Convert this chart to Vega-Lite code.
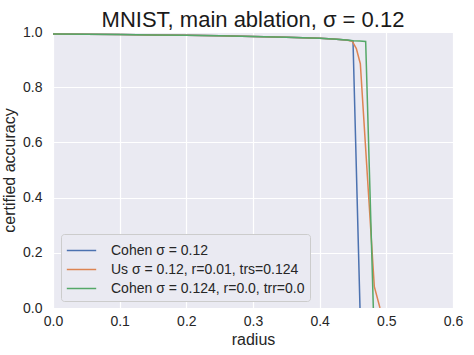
{
  "$schema": "https://vega.github.io/schema/vega-lite/v6.json",
  "width": 400,
  "height": 276,
  "autosize": {"type": "none"},
  "padding": {"left": 53, "top": 32, "right": 21, "bottom": 47},
  "background": "white",
  "title": {"text": "MNIST, main ablation, σ = 0.12", "font": "Liberation Sans", "fontSize": 22, "fontWeight": "normal", "color": "#1a1a1a", "offset": 0, "dy": 7},
  "config": {
    "view": {"fill": "#EAEAF2", "stroke": null},
    "axis": {"labelFont": "Liberation Sans", "titleFont": "Liberation Sans", "labelFontSize": 14, "titleFontSize": 16, "titleFontWeight": "normal", "labelColor": "#262626", "titleColor": "#262626", "domain": false, "ticks": false, "gridColor": "white", "gridWidth": 1.2, "gridOpacity": 1}
  },
  "data": {"values": [
    {"s": "Cohen σ = 0.12", "r": 0.0, "a": 0.993},
    {"s": "Cohen σ = 0.12", "r": 0.05, "a": 0.992},
    {"s": "Cohen σ = 0.12", "r": 0.1, "a": 0.991},
    {"s": "Cohen σ = 0.12", "r": 0.15, "a": 0.989},
    {"s": "Cohen σ = 0.12", "r": 0.2, "a": 0.988},
    {"s": "Cohen σ = 0.12", "r": 0.25, "a": 0.986},
    {"s": "Cohen σ = 0.12", "r": 0.3, "a": 0.984},
    {"s": "Cohen σ = 0.12", "r": 0.35, "a": 0.981},
    {"s": "Cohen σ = 0.12", "r": 0.4, "a": 0.977},
    {"s": "Cohen σ = 0.12", "r": 0.42, "a": 0.975},
    {"s": "Cohen σ = 0.12", "r": 0.44, "a": 0.971},
    {"s": "Cohen σ = 0.12", "r": 0.45, "a": 0.968},
    {"s": "Cohen σ = 0.12", "r": 0.4605, "a": 0.0},
    {"s": "Us σ = 0.12, r=0.01, trs=0.124", "r": 0.0, "a": 0.993},
    {"s": "Us σ = 0.12, r=0.01, trs=0.124", "r": 0.05, "a": 0.992},
    {"s": "Us σ = 0.12, r=0.01, trs=0.124", "r": 0.1, "a": 0.991},
    {"s": "Us σ = 0.12, r=0.01, trs=0.124", "r": 0.15, "a": 0.989},
    {"s": "Us σ = 0.12, r=0.01, trs=0.124", "r": 0.2, "a": 0.988},
    {"s": "Us σ = 0.12, r=0.01, trs=0.124", "r": 0.25, "a": 0.986},
    {"s": "Us σ = 0.12, r=0.01, trs=0.124", "r": 0.3, "a": 0.984},
    {"s": "Us σ = 0.12, r=0.01, trs=0.124", "r": 0.35, "a": 0.981},
    {"s": "Us σ = 0.12, r=0.01, trs=0.124", "r": 0.4, "a": 0.977},
    {"s": "Us σ = 0.12, r=0.01, trs=0.124", "r": 0.42, "a": 0.975},
    {"s": "Us σ = 0.12, r=0.01, trs=0.124", "r": 0.44, "a": 0.971},
    {"s": "Us σ = 0.12, r=0.01, trs=0.124", "r": 0.449, "a": 0.966},
    {"s": "Us σ = 0.12, r=0.01, trs=0.124", "r": 0.455, "a": 0.94},
    {"s": "Us σ = 0.12, r=0.01, trs=0.124", "r": 0.461, "a": 0.885},
    {"s": "Us σ = 0.12, r=0.01, trs=0.124", "r": 0.482, "a": 0.077},
    {"s": "Us σ = 0.12, r=0.01, trs=0.124", "r": 0.4905, "a": 0.0},
    {"s": "Cohen σ = 0.124, r=0.0, trr=0.0", "r": 0.0, "a": 0.993},
    {"s": "Cohen σ = 0.124, r=0.0, trr=0.0", "r": 0.05, "a": 0.992},
    {"s": "Cohen σ = 0.124, r=0.0, trr=0.0", "r": 0.1, "a": 0.991},
    {"s": "Cohen σ = 0.124, r=0.0, trr=0.0", "r": 0.15, "a": 0.989},
    {"s": "Cohen σ = 0.124, r=0.0, trr=0.0", "r": 0.2, "a": 0.988},
    {"s": "Cohen σ = 0.124, r=0.0, trr=0.0", "r": 0.25, "a": 0.986},
    {"s": "Cohen σ = 0.124, r=0.0, trr=0.0", "r": 0.3, "a": 0.984},
    {"s": "Cohen σ = 0.124, r=0.0, trr=0.0", "r": 0.35, "a": 0.981},
    {"s": "Cohen σ = 0.124, r=0.0, trr=0.0", "r": 0.4, "a": 0.977},
    {"s": "Cohen σ = 0.124, r=0.0, trr=0.0", "r": 0.42, "a": 0.975},
    {"s": "Cohen σ = 0.124, r=0.0, trr=0.0", "r": 0.44, "a": 0.971},
    {"s": "Cohen σ = 0.124, r=0.0, trr=0.0", "r": 0.45, "a": 0.968},
    {"s": "Cohen σ = 0.124, r=0.0, trr=0.0", "r": 0.46, "a": 0.967},
    {"s": "Cohen σ = 0.124, r=0.0, trr=0.0", "r": 0.469, "a": 0.966},
    {"s": "Cohen σ = 0.124, r=0.0, trr=0.0", "r": 0.4805, "a": 0.0}
  ]},
  "mark": {"type": "line", "strokeWidth": 1.5, "clip": true},
  "encoding": {
    "x": {"field": "r", "type": "quantitative", "title": "radius", "scale": {"domain": [0, 0.6], "nice": false, "zero": false}, "axis": {"values": [0, 0.1, 0.2, 0.3, 0.4, 0.5, 0.6], "format": ".1f", "labelPadding": 6, "titlePadding": 3, "labelFlush": false}},
    "y": {"field": "a", "type": "quantitative", "title": "certified accuracy", "scale": {"domain": [0, 1], "nice": false}, "axis": {"values": [0, 0.2, 0.4, 0.6, 0.8, 1.0], "format": ".1f", "labelPadding": 11, "titlePadding": 5, "labelFlush": false}},
    "color": {"field": "s", "type": "nominal", "sort": null,
      "scale": {"domain": ["Cohen σ = 0.12", "Us σ = 0.12, r=0.01, trs=0.124", "Cohen σ = 0.124, r=0.0, trr=0.0"], "range": ["#4C72B0", "#DD8452", "#55A868"]},
      "legend": {"title": null, "orient": "none", "legendX": 8, "legendY": 202, "labelFont": "Liberation Sans", "labelFontSize": 14, "labelColor": "#262626", "symbolType": "M-1.4,0H1.4", "symbolSize": 440, "symbolStrokeWidth": 1.5, "symbolOffset": 4, "fillColor": "#EAEAF2", "strokeColor": "#CCCCCC", "padding": 5, "cornerRadius": 3, "rowPadding": 0, "labelOffset": 18, "labelLimit": 400}
    },
    "order": {"field": "r"}
  }
}
